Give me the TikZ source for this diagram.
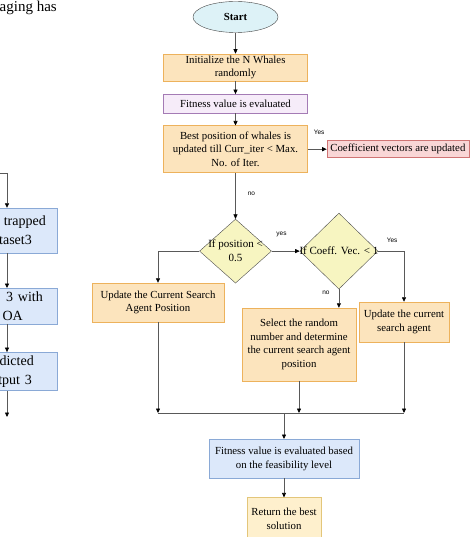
\documentclass[tikz,border=0pt]{standalone}
\usepackage{fontspec}
\setmainfont{Liberation Serif}
\newfontfamily\lblfont{Liberation Sans}
\usepackage{xcolor}
\usetikzlibrary{arrows.meta,positioning,shapes.geometric,calc}
\definecolor{orfill}{HTML}{FCE4BD}
\definecolor{ordraw}{HTML}{EDB25C}
\definecolor{pufill}{HTML}{F6ECF9}
\definecolor{pudraw}{HTML}{A47BB5}
\definecolor{yefill}{HTML}{F7F5C1}
\definecolor{pkfill}{HTML}{F9D6D6}
\definecolor{pkdraw}{HTML}{D07474}
\definecolor{blfill}{HTML}{DCE8FA}
\definecolor{bldraw}{HTML}{8AA9D6}
\definecolor{rtfill}{HTML}{FEF0CD}
\definecolor{rtdraw}{HTML}{E3C67A}
\definecolor{stfill}{HTML}{DDF2F7}
\tikzset{
  terminal/.style={
    ellipse,
    draw=black!75,
    fill=stfill,
    minimum width=85pt,
    minimum height=31pt,
    inner sep=0pt,
    font=\bfseries\fontsize{10.8}{13}\selectfont
  },
  block/.style={
    rectangle,
    draw=ordraw,
    fill=orfill,
    align=center,
    inner sep=1pt,
    font=\fontsize{10.8}{13.5}\selectfont
  },
  evalbox/.style={block, draw=pudraw, fill=pufill},
  note/.style={block, draw=pkdraw, fill=pkfill},
  result/.style={block, draw=bldraw, fill=blfill},
  finish/.style={block, draw=rtdraw, fill=rtfill},
  decision/.style={
    diamond,
    draw=black!70,
    fill=yefill,
    inner sep=0pt
  },
  dtext/.style={align=center, inner sep=0pt, font=\fontsize{11}{14}\selectfont},
  sidebox/.style={
    rectangle,
    draw=bldraw,
    fill=blfill,
    align=right,
    text width=130pt,
    inner xsep=0pt,
    font=\fontsize{14}{19}\selectfont
  },
  lbl/.style={font=\lblfont\fontsize{6.5}{7}\selectfont, inner sep=0pt},
  line/.style={draw=black!65, line width=0.7pt},
  arrow/.style={line, -{Triangle[length=4.5pt,width=4pt,black]}}
}

\begin{document}
\begin{tikzpicture}[x=1pt,y=-1pt]
  \useasboundingbox (0,0) rectangle (474,537);

  % cut-off piece of the neighbouring figure
  \node[anchor=base east, inner sep=0pt, font=\fontsize{15}{18}\selectfont] (frag) at (57,12) {aging has};
  \node[sidebox, anchor=east, minimum height=45pt] (sb1) at (57,230.5) {trapped\kern11pt\\taset3\kern25pt};
  \node[sidebox, anchor=east, minimum height=32pt] (sb2) at (57,306) {3 with\kern14pt\\OA\kern34pt};
  \node[sidebox, anchor=east, minimum height=31pt] (sb3) at (57,371.5) {dicted\kern23pt\\tput 3\kern25pt};
  \coordinate (lt) at (0,173);
  \coordinate (lc) at (7,173);
  \coordinate (lend) at (7,417);
  \draw[line] (lt) -- (lc);
  \draw[arrow] (lc) -- (lc |- sb1.north);
  \draw[arrow] (sb1.south -| lc) -- (sb2.north -| lc);
  \draw[arrow] (sb2.south -| lc) -- (sb3.north -| lc);
  \draw[arrow] (sb3.south -| lc) -- (lend);

  % main flow
  \node[terminal] (start) at (235.5,17) {Start};
  \node[block, minimum width=144pt, minimum height=27pt, below=21pt of start] (init) {Initialize the N Whales\\randomly};
  \node[evalbox, minimum width=144pt, minimum height=19pt, below=13pt of init] (fit) {Fitness value is evaluated};
  \node[block, minimum width=144pt, minimum height=47pt, below=12pt of fit] (best) {Best position of whales is\\updated till Curr\_iter < Max.\\No. of Iter.};
  \node[note, minimum width=142pt, minimum height=17pt, right=19pt of best] (coef) {Coefficient vectors are updated};
  \node[decision, minimum width=72pt, minimum height=64pt, below=46pt of best,
        label={[dtext]center:{If position <\\0.5}}] (pos) {};
  \node[decision, minimum width=78pt, minimum height=76pt, right=28pt of pos,
        label={[dtext]center:{If Coeff. Vec. < 1}}] (vec) {};
  \node[block, minimum width=132pt, minimum height=39pt] (updpos) at (158,302.5) {Update the Current Search\\Agent Position};
  \node[block, minimum width=114pt, minimum height=73pt] (select) at (299,344.5) {Select the random\\number and determine\\the current search agent\\position};
  \node[block, minimum width=90pt, minimum height=40pt] (updagent) at (404,322) {Update the current\\search agent};
  \coordinate (mrg) at (284,413);
  \node[result, minimum width=150pt, minimum height=39pt, below=26pt of mrg] (fitlvl) {Fitness value is evaluated based\\on the feasibility level};
  \node[finish, minimum width=74pt, minimum height=42pt, below=19pt of fitlvl] (ret) {Return the best\\solution};

  \draw[arrow] (start) -- (init);
  \draw[arrow] (init) -- (fit);
  \draw[arrow] (fit) -- (best);
  \draw[arrow] (best) -- node[lbl, pos=0.6, above=14pt] {Yes} (coef);
  \draw[arrow] (best) -- node[lbl, pos=0.45, right=12pt] {no} (pos);
  \draw[arrow] (pos) -- node[lbl, pos=0.35, above=14pt] {yes} (vec);
  \draw[arrow] (pos.west) -| (updpos.north);
  \draw[arrow] (vec.east) -| node[lbl, pos=0.27, above=8pt] {Yes} (updagent.north);
  \draw[arrow] (vec.south) -- node[lbl, pos=0.2, left=9pt] {no} (vec.south |- select.north);
  \draw[arrow] (updpos.south) -- (updpos.south |- mrg);
  \draw[arrow] (select.south) -- (select.south |- mrg);
  \draw[arrow] (updagent.south) -- (updagent.south |- mrg);
  \draw[line] (updpos.south |- mrg) -- (updagent.south |- mrg);
  \draw[arrow] (mrg) -- (fitlvl);
  \draw[arrow] (fitlvl) -- (ret);
\end{tikzpicture}
\end{document}
